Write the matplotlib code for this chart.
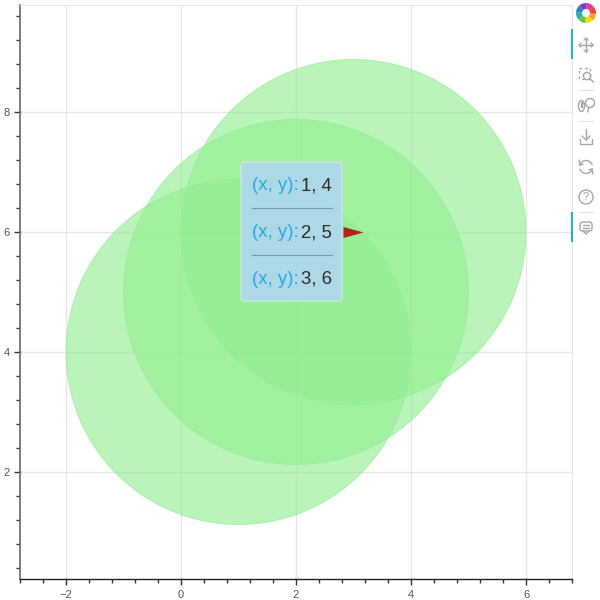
import numpy as np
import matplotlib
matplotlib.use("Agg")
import matplotlib.pyplot as plt
from matplotlib.patches import Ellipse, FancyBboxPatch, Wedge, Circle, Rectangle
from matplotlib.path import Path
from matplotlib.ticker import MultipleLocator, FuncFormatter

plt.rcParams['font.family'] = ['Liberation Sans', 'DejaVu Sans']

x_values = [1, 2, 3]
y_values = [4, 5, 6]
radius = 3
x_ticks = [-2, 0, 2, 4, 6]
y_ticks = [2, 4, 6, 8]
tip_label = "(x, y):"

fig = plt.figure(figsize=(6, 6), dpi=100, facecolor='white')
L, R, T, B = 20, 572, 5, 579
ax = fig.add_axes([L/600, 1-B/600, (R-L)/600, (B-T)/600])
ax.set_xlim(-2.8, 6.8)
ax.set_ylim(0.217, 9.783)
sx = (R-L)/9.6
sy = (B-T)/(9.783-0.217)

ax.set_axisbelow(True)
ax.grid(True, which='major', color='#e6e6e6', lw=1)
ax.xaxis.set_minor_locator(MultipleLocator(0.4))
ax.yaxis.set_minor_locator(MultipleLocator(0.4))
ax.set_xticks(x_ticks)
ax.set_yticks(y_ticks)
fmt = FuncFormatter(lambda v, p: f"{v:.0f}".replace('-', '\u2212'))
ax.xaxis.set_major_formatter(fmt)
ax.yaxis.set_major_formatter(fmt)
ax.tick_params(which='major', direction='out', length=4.3, width=1, color='#333333',
               labelsize=8, labelcolor='#555555')
ax.tick_params(axis='x', which='major', pad=3.7)
ax.tick_params(axis='y', which='major', pad=3)
ax.tick_params(which='minor', direction='out', length=2.9, width=1, color='#333333')
for s in ('top', 'right'):
    ax.spines[s].set_color('#e6e6e6')
ax.spines['left'].set_color('#666666')
ax.spines['left'].set_linewidth(1.2)
ax.spines['bottom'].set_color('#222222')
ax.spines['bottom'].set_linewidth(1.0)

# short inner part of the major ticks
sec_x = ax.secondary_xaxis('bottom')
sec_x.set_xticks(x_ticks)
sec_x.tick_params(direction='in', length=1.5, width=1, color='#333333', labelbottom=False)
sec_x.spines['bottom'].set_visible(False)
sec_y = ax.secondary_yaxis('left')
sec_y.set_yticks(y_ticks)
sec_y.tick_params(direction='in', length=1.5, width=1, color='#333333', labelleft=False)
sec_y.spines['left'].set_visible(False)

for x, y in zip(x_values, y_values):
    ax.add_patch(Ellipse((x, y), 2*radius, 2*radius*sx/sy, facecolor='#90ee90',
                         edgecolor='#90ee90', alpha=0.62, lw=0.7, zorder=2))

# triangle marker anchored on the last point
tri = Path([(-11, -5.5), (9, 0), (-11, 5.5), (-11, -5.5)], closed=True)
ax.plot([x_values[-1]], [y_values[-1]], marker=tri, ms=15.84, mfc='#b22222', mec='#b22222',
        mew=0, ls='none', zorder=3)

# overlay in pixel coordinates for tooltip and toolbar
ov = fig.add_axes([0, 0, 1, 1], facecolor='none')
ov.set_xlim(0, 600)
ov.set_ylim(600, 0)
ov.axis('off')

ov.add_patch(FancyBboxPatch((241, 162), 101, 139, boxstyle='round,pad=0,rounding_size=4',
                            facecolor='#add8e6', edgecolor='#cfe8e0', lw=0.9, zorder=5))
for yy, x, y in zip([186, 232.5, 279], x_values, y_values):
    ov.text(252, yy, tip_label, color='#26aae1', fontsize=13.4, va='center', ha='left', zorder=6)
    ov.text(332, yy, f"{x}, {y}", color='#2c2c2c', fontsize=13.4, va='center', ha='right', zorder=6)
for yy in [208, 255]:
    ov.plot([252, 332], [yy, yy], color='#7a9aa8', lw=0.8, zorder=6)

# toolbar
blue = '#26aae1'
ov.add_patch(Rectangle((570.5, 29), 2.2, 30, color=blue, lw=0, zorder=7))
ov.add_patch(Rectangle((570.5, 212), 2.2, 30, color=blue, lw=0, zorder=7))
for yy in [90, 121, 212]:
    ov.plot([579, 593], [yy, yy], color='#e2e2e2', lw=0.9)

cols = ['#f5a623', '#f9d71c', '#6cc24a', '#1fb5a0', '#2a7fd6', '#7a3fb5', '#e23a8f', '#e8473f']
for i, c in enumerate(cols):
    ov.add_patch(Wedge((586, 13), 10, i*45+5, (i+1)*45+5, width=6, color=c, lw=0))

g = '#a6a6a6'
kw = dict(color=g, lw=1.0, solid_capstyle='round')
# move
cx, cy = 586, 45
ov.plot([cx-7, cx+7], [cy, cy], **kw)
ov.plot([cx, cx], [cy-7, cy+7], **kw)
for dx in [1, -1]:
    ov.plot([cx+dx*5, cx+dx*7, cx+dx*5], [cy-2, cy, cy+2], **kw)
for dy in [1, -1]:
    ov.plot([cx-2, cx, cx+2], [cy+dy*5, cy+dy*7, cy+dy*5], **kw)
# box zoom
ov.add_patch(Rectangle((579, 68), 11, 11, fill=False, ec=g, lw=1.0, ls=(0, (2, 2))))
ov.add_patch(Circle((587, 76), 3.6, fc='white', ec=g, lw=1.0))
ov.plot([590, 593.5], [79, 82], **kw)
# wheel zoom
ov.add_patch(Ellipse((581.5, 106), 6, 11, fill=False, ec=g, lw=1.0))
ov.plot([581.5, 581.5], [103, 107], color=g, lw=1.6)
ov.add_patch(Circle((590, 103), 4.5, fill=False, ec=g, lw=1.0))
ov.plot([589, 587.5], [107.5, 112], **kw)
# save
ov.plot([586, 586], [129, 140], **kw)
ov.plot([582, 586, 590], [136, 140, 136], **kw)
ov.plot([580, 580, 592, 592], [139, 143.5, 143.5, 139], **kw)
# reset
t = np.radians(np.linspace(20, 165, 30))
ov.plot(586+6.5*np.cos(t), 167-6.5*np.sin(t), **kw)
t = np.radians(np.linspace(200, 345, 30))
ov.plot(586+6.5*np.cos(t), 167-6.5*np.sin(t), **kw)
ov.plot([579, 580, 583], [160, 165, 164], **kw)
ov.plot([593, 592, 589], [174, 169, 170], **kw)
# help
ov.add_patch(Circle((586, 197), 7, fill=False, ec=g, lw=1.0))
ov.text(586, 197.3, '?', color=g, fontsize=8, ha='center', va='center')
# comment
ov.add_patch(FancyBboxPatch((580, 222), 12, 9, boxstyle='round,pad=0,rounding_size=2.5',
                            fill=False, ec=g, lw=1.0))
ov.plot([583, 586, 589], [231, 234, 231], **kw)
ov.plot([583, 589], [225, 225], **kw)
ov.plot([583, 589], [228, 228], **kw)

fig.savefig('out.png', dpi=100)
